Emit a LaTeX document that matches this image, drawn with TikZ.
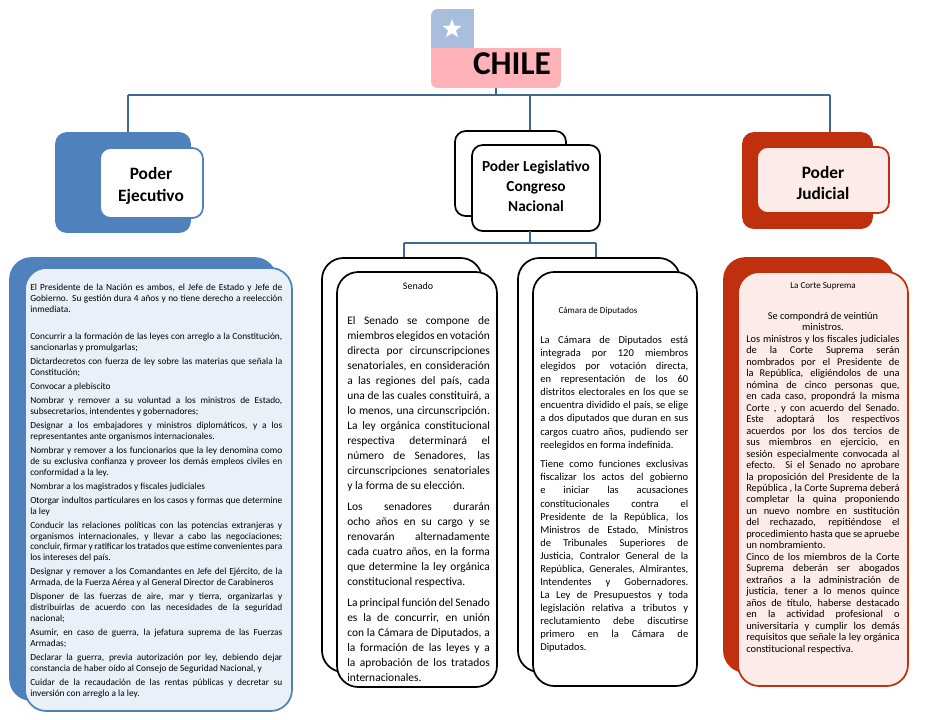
\documentclass[tikz,border=0pt]{standalone}
\usepackage{fontspec}
\setmainfont{Carlito}
\usetikzlibrary{positioning,shapes.geometric}
\definecolor{bl}{HTML}{4F81BD}
\definecolor{blf}{HTML}{EAF0F8}
\definecolor{rd}{HTML}{C0300E}
\definecolor{rdf}{HTML}{FCEBE8}
\definecolor{flagb}{HTML}{A9BEDD}
\definecolor{flagr}{HTML}{FFB3B8}
\tikzset{
 conn/.style={bl!80!black,line width=1.6pt},
 box/.style={rounded corners=8pt,line width=1.3pt},
 bigbox/.style={rounded corners=16pt,line width=1.3pt},
 txt/.style={inner sep=0pt,align=justify,anchor=north west,execute at begin node={\hyphenpenalty=10000\exhyphenpenalty=10000\tolerance=9999\emergencystretch=20pt}},
}
\begin{document}
\begin{tikzpicture}[x=0.75pt,y=-0.75pt]
\useasboundingbox (0,0) rectangle (931,719);
% flag
\begin{scope}
\clip[rounded corners=5pt] (431,9) rectangle (561,88);
\fill[flagr] (431,48) rectangle (561,88);
\fill[flagb] (431,9) rectangle (474,48);
\fill[white] (474,9) rectangle (561,48);
\end{scope}
\node[star,star points=5,star point ratio=2.4,fill=white,minimum size=15pt,inner sep=0pt] (star) at (452,29) {};
\node[font=\bfseries\fontsize{25}{28}\selectfont] (chile) at (512,64) {CHILE};
\coordinate (top) at (496,88);
% connectors
\coordinate (h1) at (128,95); \coordinate (h2) at (530,95); \coordinate (h3) at (830,95);
\draw[conn] (top) -- (496,95);
\draw[conn] (h1) -- (h3);
\draw[conn] (h1) -- (128,133);
\draw[conn] (h2) -- (530,131);
\draw[conn] (h3) -- (830,133);
% executive
\draw[box,fill=bl,draw=bl] (56,133) rectangle (190,232);
\draw[box,fill=white,draw=bl] (100,148) rectangle (203,218);
\node[font=\bfseries\fontsize{13}{16}\selectfont,align=center] (ej) at (151,186) {Poder\\Ejecutivo};
% legislative
\draw[box,fill=white,draw=black] (455,131) rectangle (566,216);
\draw[box,fill=white,draw=black] (472,145) rectangle (600,231);
\node[font=\bfseries\fontsize{11.5}{15}\selectfont,align=center] (leg) at (536,186) {Poder Legislativo\\Congreso\\Nacional};
% judicial
\draw[box,fill=rd,draw=rd] (743,133) rectangle (872,228);
\draw[box,fill=rdf,draw=rd] (757,147) rectangle (889,213);
\node[font=\bfseries\fontsize{13}{16}\selectfont,align=center] (jud) at (823,183) {Poder\\Judicial};
% leg subconnectors
\draw[conn] (530,231) -- (530,243);
\draw[conn] (404,243) -- (596,243);
\draw[conn] (404,243) -- (404,258);
\draw[conn] (596,243) -- (596,258);
% big boxes
\draw[bigbox,fill=bl,draw=bl] (10,258) rectangle (276,700);
\draw[bigbox,fill=blf,draw=bl] (25,268) rectangle (292,711);
\draw[bigbox,fill=white,draw=black] (322,258) rectangle (482,672);
\draw[bigbox,fill=white,draw=black] (337,272) rectangle (497,687);
\draw[bigbox,fill=white,draw=black] (518,258) rectangle (680,672);
\draw[bigbox,fill=white,draw=black] (533,272) rectangle (697,686);
\draw[bigbox,fill=rd,draw=rd] (724,258) rectangle (893,672);
\draw[bigbox,fill=rdf,draw=rd] (738,272) rectangle (908,686);
% executive text
\node[txt,text width=189pt,font=\fontsize{7}{8.2}\selectfont] (ejt) at (30,284) {%
El Presidente de la Nación es ambos, el Jefe de Estado y Jefe de Gobierno. Su gestión dura 4 años y no tiene derecho a reelección inmediata.\par\vspace{12pt}
Concurrir a la formación de las leyes con arreglo a la Constitución, sancionarlas y promulgarlas;\par\vspace{2.3pt}
Dictardecretos con fuerza de ley sobre las materias que señala la Constitución;\par\vspace{2.3pt}
Convocar a plebiscito\par\vspace{2.3pt}
Nombrar y remover a su voluntad a los ministros de Estado, subsecretarios, intendentes y gobernadores;\par\vspace{2.3pt}
Designar a los embajadores y ministros diplomáticos, y a los representantes ante organismos internacionales.\par\vspace{2.3pt}
Nombrar y remover a los funcionarios que la ley denomina como de su exclusiva confianza y proveer los demás empleos civiles en conformidad a la ley.\par\vspace{2.3pt}
Nombrar a los magistrados y fiscales judiciales\par\vspace{2.3pt}
Otorgar indultos particulares en los casos y formas que determine la ley\par\vspace{2.3pt}
Conducir las relaciones políticas con las potencias extranjeras y organismos internacionales, y llevar a cabo las negociaciones; concluir, firmar y ratificar los tratados que estime convenientes para los intereses del país.\par\vspace{2.3pt}
Designar y remover a los Comandantes en Jefe del Ejército, de la Armada, de la Fuerza Aérea y al General Director de Carabineros\par\vspace{2.3pt}
Disponer de las fuerzas de aire, mar y tierra, organizarlas y distribuirlas de acuerdo con las necesidades de la seguridad nacional;\par\vspace{2.3pt}
Asumir, en caso de guerra, la jefatura suprema de las Fuerzas Armadas;\par\vspace{2.3pt}
Declarar la guerra, previa autorización por ley, debiendo dejar constancia de haber oído al Consejo de Seguridad Nacional, y\par\vspace{2.3pt}
Cuidar de la recaudación de las rentas públicas y decretar su inversión con arreglo a la ley.};
% senado
\node[font=\fontsize{7.5}{9}\selectfont] (sent) at (418,286) {Senado};
\node[txt,text width=107pt,font=\fontsize{8.6}{11.3}\selectfont] (sen) at (347,316) {%
El Senado se compone de miembros elegidos en votación directa por circunscripciones senatoriales, en consideración a las regiones del país, cada una de las cuales constituirá, a lo menos, una circunscripción. La ley orgánica constitucional respectiva determinará el número de Senadores, las circunscripciones senatoriales y la forma de su elección.\par\vspace{4pt}
Los senadores durarán ocho años en su cargo y se renovarán alternadamente cada cuatro años, en la forma que determine la ley orgánica constitucional respectiva.\par\vspace{4pt}
La principal función del Senado es la de concurrir, en unión con la Cámara de Diputados, a la formación de las leyes y a la aprobación de los tratados internacionales.};
% camara
\node[font=\fontsize{6.8}{8}\selectfont] (camt) at (598,311) {Cámara de Diputados};
\node[txt,text width=111pt,font=\fontsize{7.9}{9.8}\selectfont] (cam) at (540,336) {%
La Cámara de Diputados está integrada por 120 miembros elegidos por votación directa, en representación de los 60 distritos electorales en los que se encuentra dividido el país, se elige a dos diputados que duran en sus cargos cuatro años, pudiendo ser reelegidos en forma indefinida.\par\vspace{5pt}
Tiene como funciones exclusivas fiscalizar los actos del gobierno e iniciar las acusaciones constitucionales contra el Presidente de la República, los Ministros de Estado, Ministros de Tribunales Superiores de Justicia, Contralor General de la República, Generales, Almirantes, Intendentes y Gobernadores. La Ley de Presupuestos y toda legislación relativa a tributos y reclutamiento debe discutirse primero en la Cámara de Diputados.};
% corte suprema
\node[font=\fontsize{6.8}{8}\selectfont] (cst) at (823,286) {La Corte Suprema};
\node[txt,text width=115pt,font=\fontsize{7.8}{8.6}\selectfont] (cs) at (746,312) {%
{\centering Se compondrá de veintiún\\ ministros.\par}
Los ministros y los fiscales judiciales de la Corte Suprema serán nombrados por el Presidente de la República, eligiéndolos de una nómina de cinco personas que, en cada caso, propondrá la misma Corte , y con acuerdo del Senado. Este adoptará los respectivos acuerdos por los dos tercios de sus miembros en ejercicio, en sesión especialmente convocada al efecto. Si el Senado no aprobare la proposición del Presidente de la República , la Corte Suprema deberá completar la quina proponiendo un nuevo nombre en sustitución del rechazado, repitiéndose el procedimiento hasta que se apruebe un nombramiento.\par
Cinco de los miembros de la Corte Suprema deberán ser abogados extraños a la administración de justicia, tener a lo menos quince años de título, haberse destacado en la actividad profesional o universitaria y cumplir los demás requisitos que señale la ley orgánica constitucional respectiva.};
\end{tikzpicture}
\end{document}
